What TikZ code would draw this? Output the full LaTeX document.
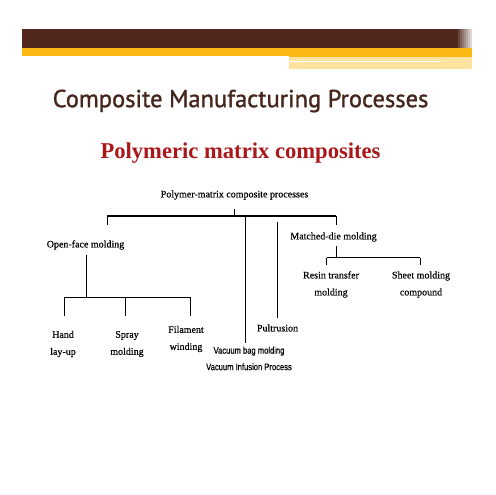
\documentclass[tikz,border=0pt]{standalone}
\usepackage{fontspec}
\setmainfont{Liberation Serif}
\newfontfamily\titlefont[FakeBold=1.2]{PT Sans}
\newfontfamily\procfont[FakeBold=0.4]{Liberation Serif}
\newfontfamily\narrowsans[FakeStretch=0.8, FakeBold=0.4]{Liberation Sans}
\begin{document}
\begin{tikzpicture}[x=1pt, y=-1pt,
  proc/.style={font=\procfont\fontsize{10}{17}\selectfont, align=center, inner sep=1pt},
  vacproc/.style={font=\narrowsans\fontsize{9.5}{16.5}\selectfont, align=center, inner sep=1pt},
  thinline/.style={line width=1pt},
  busline/.style={line width=1.8pt}]
\definecolor{BarBrown}{RGB}{80,40,30}
\definecolor{BarYellow}{RGB}{253,185,19}
\definecolor{PaleYellow}{RGB}{253,226,160}
\definecolor{TitleBrown}{RGB}{70,38,28}
\definecolor{SubRed}{RGB}{170,24,28}
\useasboundingbox[fill=white] (0,0) rectangle (495,495);
% banner
\fill[BarBrown] (22,29.3) rectangle (458,48.3);
\foreach \i in {0,...,6}{
\fill[BarBrown, opacity=0.85-0.11*\i] (458+2*\i,29.3) rectangle (460+2*\i,48.3);
}
\fill[BarYellow] (22,48.3) rectangle (472,56);
\fill[BarYellow] (289,48.3) rectangle (472,57.5);
\fill[PaleYellow] (289,57.5) rectangle (472,69);
\draw[white, line width=1.5pt] (289,61.5) -- (440,61.5);
% titles
\node[text=TitleBrown, font=\titlefont\fontsize{24.5}{28}\selectfont] (title) at (240.5,101) {Composite Manufacturing Processes};
\node[text=SubRed, font=\bfseries\fontsize{22.6}{26}\selectfont] (subtitle) at (240.5,153) {Polymeric matrix composites};
% process tree
\node[proc] (root) at (234.5,195) {Polymer-matrix composite processes};
\node[proc] (open) at (85.5,245) {Open-face molding};
\node[proc] (matched) at (333.5,237) {Matched-die molding};
\node[proc] (hand) at (63,344) {Hand\\lay-up};
\node[proc] (spray) at (127,344) {Spray\\molding};
\node[proc] (fil) at (186,339) {Filament\\winding};
\node[vacproc] (vac) at (249,358.5) {Vacuum bag molding\\Vacuum Infusion Process};
\node[proc] (pult) at (277.5,328) {Pultrusion};
\node[proc] (resin) at (331,284.5) {Resin transfer\\molding};
\node[proc] (sheet) at (421,284.5) {Sheet molding\\compound};
\coordinate (busL) at (107,215.7);
\coordinate (busR) at (336,215.7);
\coordinate (ofJ) at (86,297);
\coordinate (mdJ) at (336,257.7);
\draw[busline] (busL) -- (busR);
\draw[thinline] ([yshift=-8pt]root.south) -- (root.south |- busL);
\draw[thinline] (busL) -- ++(0,9.3);
\draw[thinline] (busR) -- ++(0,9.3);
\draw[thinline] (busL -| 245,0) -- ([yshift=3pt]vac.north -| 245,0);
\draw[thinline] ([yshift=5pt]pult.north) -- ++(0,-96);
% open-face branch
\draw[thinline] ([yshift=-4pt]open.south -| ofJ) -- (ofJ);
\draw[thinline] (64,297) -- (190.7,297);
\foreach \x in {64,125.7,190.7}{
\draw[thinline] (\x,297) -- (\x,316);
}
% matched-die branch
\draw[thinline] ([yshift=-3pt]matched.south -| mdJ) -- (mdJ);
\draw[thinline] (326.7,257.7) -- (420,257.7);
\foreach \x in {326.7,420}{
\draw[thinline] (\x,257.7) -- (\x,265);
}
\end{tikzpicture}
\end{document}
